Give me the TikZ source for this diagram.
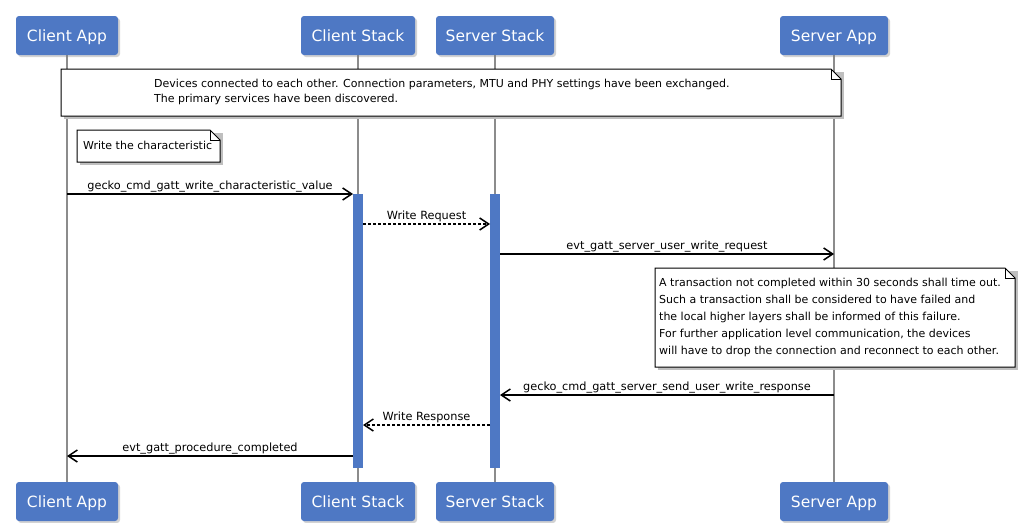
\documentclass[tikz,border=0pt]{standalone}
\usepackage{fontspec}
\setmainfont{DejaVu Sans}
\usetikzlibrary{arrows.meta,shadows}
\begin{document}
\begin{tikzpicture}[x=1pt,y=-1pt,
 part/.style={draw=none,fill={rgb,255:red,78;green,120;blue,196},rounded corners=3pt,text=white,font=\fontsize{15.5}{17}\selectfont,minimum height=39pt,inner sep=0pt,text height=13pt,text depth=0.5pt,drop shadow={shadow xshift=2pt,shadow yshift=-2pt,opacity=0.35}},
 life/.style={draw={rgb,255:red,140;green,140;blue,140},line width=1.5pt},
 act/.style={fill={rgb,255:red,78;green,120;blue,196},draw=none},
 msg/.style={-{Straight Barb[length=9pt,width=12pt,line width=1.5pt]},line width=1.5pt},
 lbl/.style={font=\fontsize{11.3}{13}\selectfont,inner sep=1.5pt},
 notetxt/.style={font=\fontsize{11}{15}\selectfont,align=left,anchor=north west,inner sep=0pt},
 notebox/.style={fill=white,draw=black,line width=1pt}]
\useasboundingbox (0,0) rectangle (1025,522);
\fill[white] (0,0) rectangle (1025,522);
% lifelines
\foreach \n/\x in {ca/67,cs/358,ss/495,sa/834}{
 \coordinate (\n t) at (\x,55); \coordinate (\n b) at (\x,482);
 \draw[life] (\n t) -- (\n b);}
% participants
\foreach \n/\xa/\xb/\t in {ca/16/118/Client App,cs/301/415/Client Stack,ss/436/554/Server Stack,sa/780/888/Server App}{
 \node[part,minimum width={\xb-\xa}] (\n top) at ({(\xa+\xb)/2},35.5) {\t};
 \node[part,minimum width={\xb-\xa}] (\n bot) at ({(\xa+\xb)/2},501.5) {\t};}
% big note
\fill[black!25] (64,72) rectangle (844,119);
\draw[notebox] (61,69) -- (831,69) -- (841,79) -- (841,116) -- (61,116) -- cycle;
\draw[line width=1pt] (831,69) -- (831,79) -- (841,79);
\node[notetxt] (n1) at (154,79) {Devices connected to each other. Connection parameters, MTU and PHY settings have been exchanged.\\The primary services have been discovered.};
% small note
\fill[black!25] (80,133) rectangle (223,165);
\draw[notebox] (77,130) -- (210,130) -- (220,140) -- (220,162) -- (77,162) -- cycle;
\draw[line width=1pt] (210,130) -- (210,140) -- (220,140);
\node[notetxt] (n2) at (83,141) {Write the characteristic};
% activations
\draw[act] (353,194) rectangle (363,468);
\draw[act] (490,194) rectangle (500,468);
\coordinate (a1) at (67,194); \coordinate (a1e) at (353,194);
\coordinate (a2) at (363,224); \coordinate (a2e) at (490,224);
\coordinate (a3) at (500,254); \coordinate (a3e) at (834,254);
\coordinate (a4) at (834,395); \coordinate (a4e) at (500,395);
\coordinate (a5) at (490,425); \coordinate (a5e) at (363,425);
\coordinate (a6) at (353,456); \coordinate (a6e) at (67,456);
\draw[msg] (a1) -- node[lbl,above,pos=0.5]{gecko\_cmd\_gatt\_write\_characteristic\_value} (a1e);
\draw[msg,dash pattern=on 3pt off 2pt] (a2) -- node[lbl,above]{Write Request} (a2e);
\draw[msg] (a3) -- node[lbl,above]{evt\_gatt\_server\_user\_write\_request} (a3e);
\draw[msg] (a4) -- node[lbl,above]{gecko\_cmd\_gatt\_server\_send\_user\_write\_response} (a4e);
\draw[msg,dash pattern=on 3pt off 2pt] (a5) -- node[lbl,above]{Write Response} (a5e);
\draw[msg] (a6) -- node[lbl,above]{evt\_gatt\_procedure\_completed} (a6e);
% right note
\fill[black!25] (658,271) rectangle (1018,370);
\draw[notebox] (655,268) -- (1005,268) -- (1015,278) -- (1015,367) -- (655,367) -- cycle;
\draw[line width=1pt] (1005,268) -- (1005,278) -- (1015,278);
\node[notetxt,font=\fontsize{11}{17}\selectfont] (n3) at (659,278) {A transaction not completed within 30 seconds shall time out.\\Such a transaction shall be considered to have failed and\\the local higher layers shall be informed of this failure.\\For further application level communication, the devices\\will have to drop the connection and reconnect to each other.};
\end{tikzpicture}
\end{document}
